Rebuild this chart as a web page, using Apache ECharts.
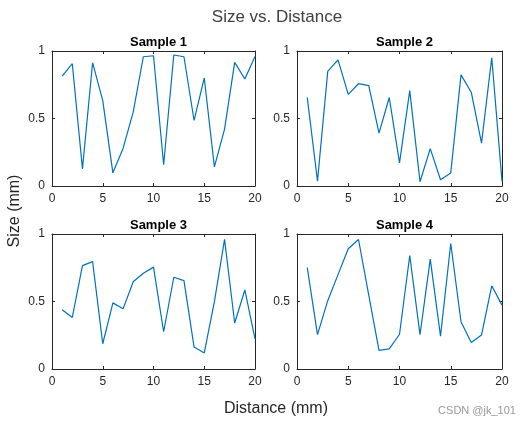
<!DOCTYPE html>
<html><head><meta charset="utf-8">
<script src="https://cdn.jsdelivr.net/npm/echarts@6/dist/echarts.min.js"></script>
<style>html,body{margin:0;padding:0;background:#fff}#c{width:532px;height:425px}</style>
</head><body><div id="c"></div>
<script>
const distance = [1,2,3,4,5,6,7,8,9,10,11,12,13,14,15,16,17,18,19,20];
const sample1 = [0.8147,0.9058,0.1270,0.9134,0.6324,0.0975,0.2785,0.5469,0.9575,0.9649,0.1576,0.9706,0.9572,0.4854,0.8003,0.1419,0.4218,0.9157,0.7922,0.9595];
const sample2 = [0.6557,0.0357,0.8491,0.9340,0.6787,0.7577,0.7431,0.3922,0.6555,0.1712,0.7060,0.0318,0.2769,0.0462,0.0971,0.8235,0.6948,0.3171,0.9502,0.0344];
const sample3 = [0.4387,0.3816,0.7655,0.7952,0.1869,0.4898,0.4456,0.6463,0.7094,0.7547,0.2760,0.6797,0.6551,0.1626,0.1190,0.4984,0.9597,0.3404,0.5853,0.2238];
const sample4 = [0.7513,0.2551,0.5060,0.6991,0.8909,0.9593,0.5472,0.1386,0.1493,0.2575,0.8407,0.2543,0.8143,0.2435,0.9293,0.3500,0.1966,0.2511,0.6160,0.4733];
const titles = ['Sample 1','Sample 2','Sample 3','Sample 4'];
const samples = [sample1, sample2, sample3, sample4];

const FONT = 'Liberation Sans, Arial, Helvetica, sans-serif';
const AX = '#262626';
const grids = [
  {left:52, top:51, width:203, height:135},
  {left:297, top:51, width:205, height:135},
  {left:52, top:234, width:203, height:135},
  {left:297, top:234, width:205, height:135}
];
const xAxes = [], yAxes = [], series = [], titleList = [];
titleList.push({text:'Size vs. Distance', left:272, top:4, textAlign:'center',
  textStyle:{fontFamily:FONT, fontSize:17, fontWeight:'normal', color:'#404040'}});
grids.forEach((g,i)=>{
  const common = {min:0, axisLine:{show:true, onZero:false, lineStyle:{color:AX, width:1}},
    axisTick:{show:true, inside:true, length:3, lineStyle:{color:AX}},
    splitLine:{show:false}};
  xAxes.push(Object.assign({}, common, {type:'value', gridIndex:i, max:20, interval:5, position:'bottom',
    axisLabel:{fontFamily:FONT, fontSize:12, color:AX, margin:7}}));
  xAxes.push(Object.assign({}, common, {type:'value', gridIndex:i, max:20, interval:5, position:'top',
    axisLabel:{show:false}}));
  yAxes.push(Object.assign({}, common, {type:'value', gridIndex:i, max:1, interval:0.5, position:'left',
    axisLabel:{fontFamily:FONT, fontSize:12, color:AX, margin:7}}));
  yAxes.push(Object.assign({}, common, {type:'value', gridIndex:i, max:1, interval:0.5, position:'right',
    axisLabel:{show:false}}));
  series.push({type:'line', xAxisIndex:2*i, yAxisIndex:2*i, showSymbol:false, symbol:'none',
    lineStyle:{color:'#0072BD', width:1.2}, animation:false,
    data: distance.map((d,k)=>[d, samples[i][k]])});
  titleList.push({text:titles[i], left:g.left + g.width/2, top:g.top-20, textAlign:'center',
    textStyle:{fontFamily:FONT, fontSize:13, fontWeight:'bold', color:'#000'}});
});
const chart = echarts.init(document.getElementById('c'), null, {renderer:'canvas'});
chart.setOption({
  backgroundColor:'#fff',
  animation:false,
  title:titleList,
  grid:grids,
  xAxis:xAxes,
  yAxis:yAxes,
  series:series,
  graphic:[
    {type:'text', x:276, y:409, style:{text:'Distance (mm)', textAlign:'center', textVerticalAlign:'middle', font:'16px '+FONT, fill:'#262626'}},
    {type:'text', rotation:Math.PI/2, x:15, y:211, style:{text:'Size (mm)', textAlign:'center', textVerticalAlign:'middle', font:'16px '+FONT, fill:'#262626'}},
    {type:'text', x:477, y:411, style:{text:'CSDN @jk_101', textAlign:'center', textVerticalAlign:'middle', font:'11px '+FONT, fill:'#999'}}
  ]
});
</script></body></html>
